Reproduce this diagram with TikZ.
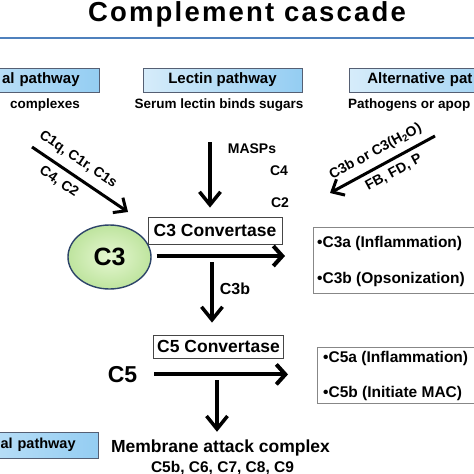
\documentclass[tikz,border=0pt]{standalone}
\usepackage{fontspec}
\setmainfont{Liberation Sans}
\newfontfamily\titlefont[LetterSpace=8]{Liberation Sans}
\usetikzlibrary{arrows.meta, calc, shapes.geometric}

\definecolor{rulebl}{RGB}{79,129,189}
\definecolor{pathlt}{RGB}{214,236,250}
\definecolor{pathdk}{RGB}{148,205,242}
\definecolor{pathln}{RGB}{85,95,115}
\definecolor{cthreein}{RGB}{230,247,210}
\definecolor{cthreeout}{RGB}{190,228,158}
\definecolor{cthreeln}{RGB}{45,68,105}
\definecolor{boxln}{RGB}{70,70,70}
\definecolor{resln}{RGB}{135,135,135}

\begin{document}
\begin{tikzpicture}
  [x=1pt, y=-1pt,
  % pathway boxes
  pathbox/.style = {rectangle,
    draw=pathln, thick,
    left color=pathlt, right color=pathdk,
    minimum height=24pt,
    font=\fontsize{15}{18}\selectfont\bfseries},
  % convertase boxes
  convbox/.style = {rectangle,
    draw=boxln, thick, fill=white,
    font=\fontsize{17.5}{20}\selectfont\bfseries},
  % result boxes
  resbox/.style = {rectangle,
    draw=resln, thick, fill=white,
    anchor=north west, minimum width=200pt},
  % texts
  sub/.style = {anchor=base, inner sep=0pt,
    font=\fontsize{13.5}{16}\selectfont\bfseries},
  item/.style = {anchor=base west, inner sep=0pt,
    font=\fontsize{15.5}{18}\selectfont\bfseries},
  lbl/.style = {font=\fontsize{14}{16}\selectfont\bfseries},
  % arrows
  arrowbig/.style = {draw, line width=4pt,
    -{Straight Barb[length=9pt, width=20pt]}},
  arrowvert/.style = {draw, line width=3.5pt,
    -{Straight Barb[length=13pt, width=21pt]}},
  arrowdiag/.style = {draw, line width=3pt,
    -{Straight Barb[length=10pt, width=18pt]}},
  ]

  \useasboundingbox (0,0) rectangle (474,474);
  \clip (0,0) rectangle (474,474);

  % title
  \node [anchor=base, font=\titlefont\bfseries\fontsize{27.5}{30}\selectfont] (title) at (247,21) {Complement cascade};
  \draw [rulebl, line width=2.5pt] (0,38) -- (474,38);

  % nodes
  \node [pathbox, anchor=east, text width=150pt, align=right, inner xsep=20pt] (classic) at (100,80) {al pathway};
  \node [pathbox, minimum width=159pt] (lectin) at (222.5,80) {Lectin pathway};
  \node [pathbox, anchor=west, text width=150pt, align=left, inner xsep=18pt] (altern) at (349,80) {Alternative pat};
  \node [pathbox, anchor=east, text width=150pt, align=right, inner xsep=23pt, minimum height=26pt,
    font=\fontsize{14.5}{17}\selectfont\bfseries] (termin) at (99,445) {al pathway};

  \node [sub, anchor=base east] (classub) at (80,108) {complexes};
  \node [sub] (lectsub) at (219,108) {Serum lectin binds sugars};
  \node [sub, anchor=base west] (altsub) at (348,108) {Pathogens or apop};

  \node [convbox, minimum width=134pt, minimum height=27pt] (c3conv) at (215,230.5) {C3 Convertase};
  \node [convbox, minimum width=123pt, minimum height=23pt] (c5conv) at (218.5,346.5) {C5 Convertase};

  \node [ellipse, draw=cthreeln, line width=1.4pt, inner color=cthreein, outer color=cthreeout,
    minimum width=83pt, minimum height=64pt,
    font=\fontsize{25}{27}\selectfont\bfseries] (c3) at (109.5,257) {C3};
  \node [font=\fontsize{23}{25}\selectfont\bfseries] (c5) at (122.5,375) {C5};

  \node [resbox, minimum height=66pt] (c3res) at (313,227) {};
  \node [item] (c3a) at (317,247) {•C3a (Inflammation)};
  \node [item] (c3b) at (317,283) {•C3b (Opsonization)};
  \node [resbox, minimum height=56pt] (c5res) at (317,347) {};
  \node [item] (c5a) at (323,362) {•C5a (Inflammation)};
  \node [item] (c5b) at (323,397) {•C5b (Initiate MAC)};

  \node [anchor=base, font=\fontsize{17.5}{20}\selectfont\bfseries] (mac) at (220.5,452) {Membrane attack complex};
  \node [anchor=base, font=\fontsize{15.5}{18}\selectfont\bfseries] (macparts) at (222.5,472) {C5b, C6, C7, C8, C9};

  \node [lbl, anchor=base] (masps) at (252,153) {MASPs};
  \node [lbl, anchor=base] (lecc4) at (279,175) {C4};
  \node [lbl, anchor=base] (lecc2) at (280,207) {C2};
  \node [lbl, anchor=base, font=\fontsize{16}{18}\selectfont\bfseries] (c3blbl) at (235,294) {C3b};

  % free ends
  \coordinate (clsstart) at (32,147);
  \coordinate (clsend) at (128,212);
  \coordinate (lecstart) at (210,142);
  \coordinate (altstart) at (435,136);
  \coordinate (altend) at (330,193);

  % path
  \path [arrowdiag] (clsstart) --
    node [lbl, sloped, above=4pt, pos=0.39] (clsup) {C1q, C1r, C1s}
    node [lbl, sloped, below=3pt, pos=0.36] (clsdown) {C4, C2} (clsend);
  \path [arrowvert] (lecstart) -- ($(lecstart |- c3conv.north)+(0,-9)$);
  \path [arrowdiag] (altstart) --
    node [lbl, sloped, above=3pt, pos=0.5] (altup) {C3b or C3(H\textsubscript{2}O)}
    node [lbl, sloped, below=2pt, pos=0.45] (altdown) {FB, FD, P} (altend);
  \path [arrowbig] ($(c3.east)+(5,-1)$) -- ($(c3res.west |- c3.east)+(-28,-1)$);
  \path [arrowvert] ($(c3conv.south)+(-3,18)$) -- ($(c3conv.south |- c5conv.north)+(-3,-12)$);
  \path [arrowbig] ($(c5conv.south west)+(1,16)$) -- ($(c5res.west |- c5conv.south)+(-29,16)$);
  \path [arrowvert] ($(c5conv.south)+(-1.5,22)$) -- ($(mac.north)+(-3.5,-4)$);

\end{tikzpicture}
\end{document}
